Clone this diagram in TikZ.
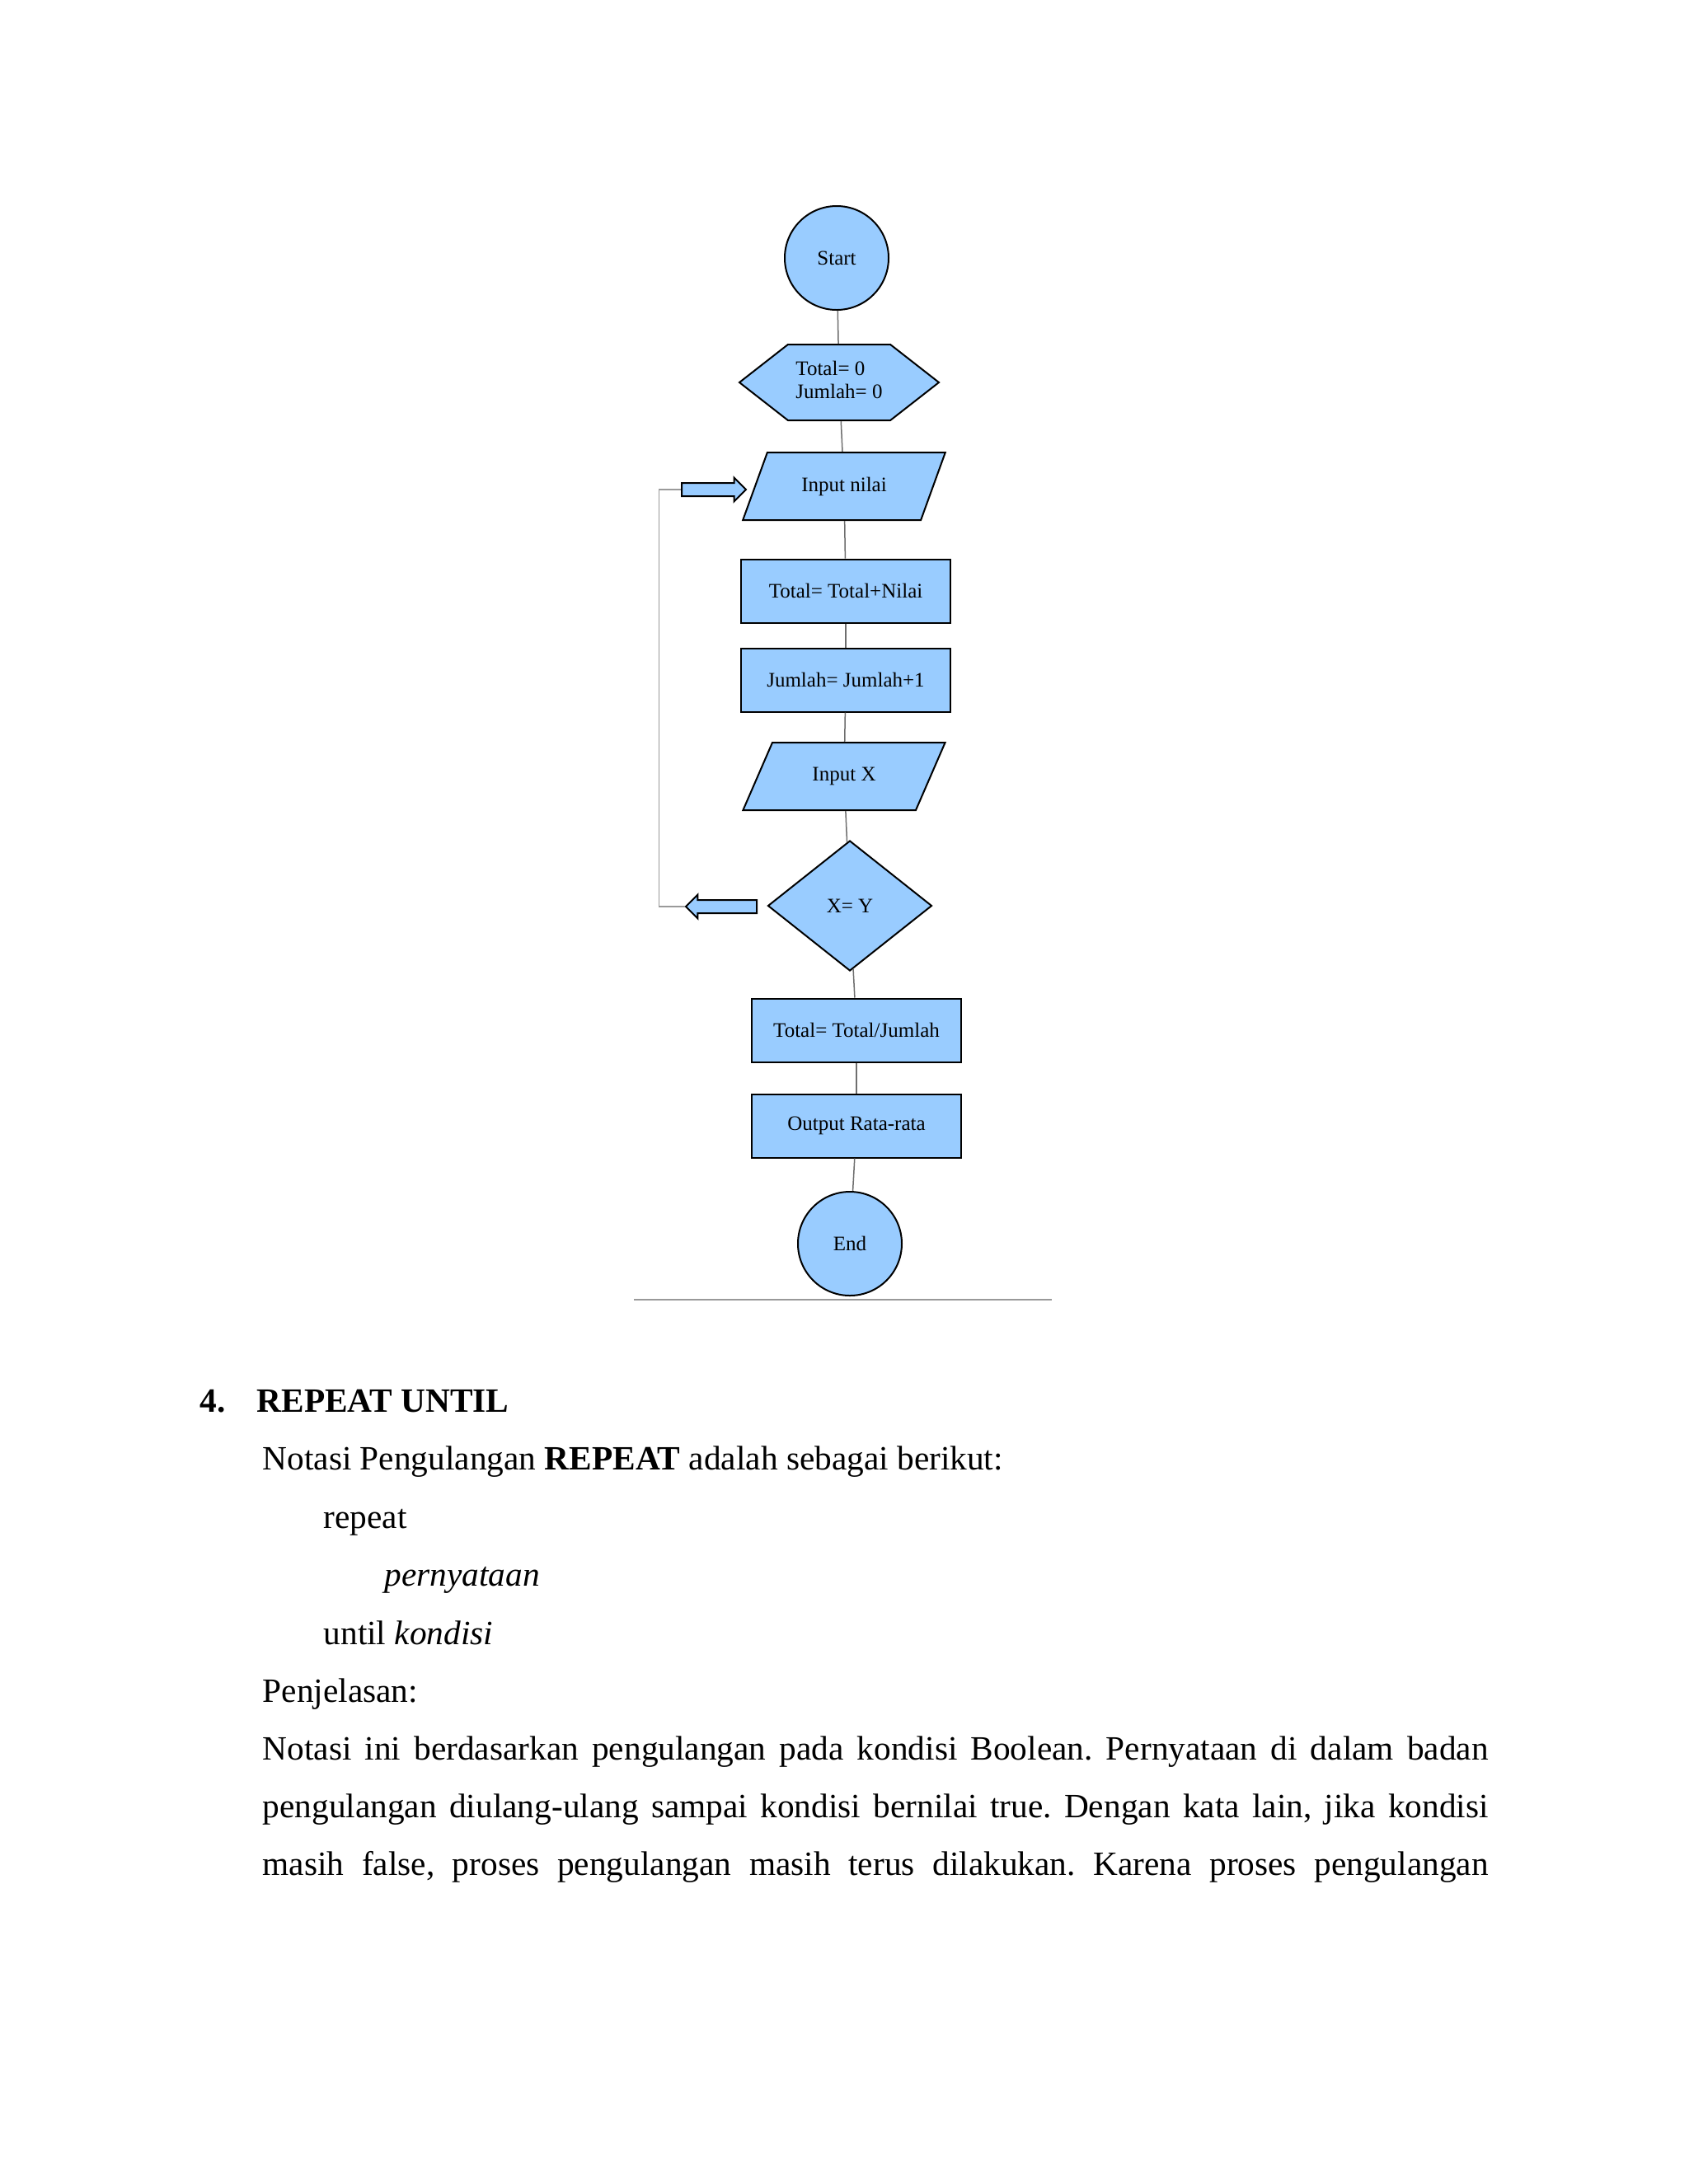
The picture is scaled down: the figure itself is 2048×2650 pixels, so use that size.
\documentclass[tikz,border=0pt]{standalone}
\usepackage{fontspec}
\setmainfont{Liberation Serif}
\usetikzlibrary{shapes.geometric,shapes.symbols,shapes.arrows}
\definecolor{boxblue}{HTML}{99CCFF}
\definecolor{linegray}{HTML}{6E6E6E}
\definecolor{loopgray}{HTML}{9A9A9A}
\definecolor{rulegray}{HTML}{999999}
\newcommand{\pxl}{0.29883bp}

\begin{document}
\begin{tikzpicture}[x=\pxl, y=-\pxl,
	flow/.style={draw=black, line width=0.6pt, fill=boxblue, inner sep=0pt, font=\fontsize{7.5}{8.4}\selectfont},
	term/.style={flow, circle, minimum size=126*\pxl},
	prep/.style={flow, signal, signal to=west and east, signal pointer angle=76, minimum width=242*\pxl, minimum height=92*\pxl, align=left},
	io/.style={flow, trapezium, trapezium left angle=54, trapezium right angle=126, trapezium stretches=true, minimum width=246*\pxl, minimum height=82*\pxl},
	proc/.style={flow, rectangle, minimum width=254*\pxl, minimum height=77*\pxl},
	decision/.style={flow, diamond, minimum width=199*\pxl, minimum height=158*\pxl},
	blockarrow/.style={flow, single arrow, inner xsep=0pt, inner ysep=2.09bp, single arrow head extend=1.94bp, single arrow head indent=0pt},
	conn/.style={draw=linegray, line width=0.45pt},
	body/.style={anchor=base west, inner sep=0pt, font=\fontsize{12.4}{21.1}\selectfont}]
	\useasboundingbox[fill=white] (0, 0) rectangle (2048, 2650);

	% flowchart
	\node[term] at (1015, 313) (start) {Start};
	\node[prep] at (1018, 464) (init) {\raisebox{1.5bp}{\begin{tabular}{@{}l@{}}Total= 0\\Jumlah= 0\end{tabular}}};
	\node[io] at (1024, 590) (innilai) {Input nilai};
	\node[proc] at (1026, 717) (addtotal) {Total= Total+Nilai};
	\node[proc] at (1026, 825) (addjumlah) {Jumlah= Jumlah+1};
	\node[io] at (1024, 942) (inx) {Input X};
	\node[decision] at (1031, 1099) (cek) {X= Y};
	\node[proc] at (1039, 1250) (avg) {Total= Total/Jumlah};
	\node[proc] at (1039, 1366) (outavg) {Output Rata-rata};
	\node[term] at (1031, 1509) (stop) {End};

	\node[blockarrow, minimum height=78*\pxl] at (862, 594) (inarrow) {};
	\node[blockarrow, minimum height=86*\pxl, shape border rotate=180] at (879, 1100) (backarrow) {};

	\path
	(start) edge[conn] (init)
	(init) edge[conn] (innilai)
	(innilai) edge[conn] (addtotal)
	(addtotal) edge[conn] (addjumlah)
	(addjumlah) edge[conn] (inx)
	(inx) edge[conn] (cek)
	(cek) edge[conn] (avg)
	(avg) edge[conn] (outavg)
	(outavg) edge[conn] (stop);
	\draw[conn, draw=loopgray] (backarrow.tip) -- ++(-31, 0) |- (inarrow.tail);

	\draw[draw=rulegray, line width=0.6pt] (769, 1577) -- (1276, 1577);

	% text below
	\node[body, font=\fontsize{12.4}{21.1}\selectfont\bfseries] at (242, 1713) (num) {4.};
	\node[body] at (311, 1713) (judul) {\textbf{REPEAT UNTIL}};
	\node[body] at (318, 1783) (notasi) {Notasi Pengulangan \textbf{REPEAT} adalah sebagai berikut:};
	\node[body] at (392, 1854) (kwrepeat) {repeat};
	\node[body] at (466, 1924) (kwbody) {\textit{pernyataan}};
	\node[body] at (392, 1995) (kwuntil) {until \textit{kondisi}};
	\node[body] at (318, 2065) (jelas) {Penjelasan:};
	\node[body, text width=444.36bp, align=justify] at (318, 2135) (isi) {\frenchspacing\parfillskip=0pt Notasi ini berdasarkan pengulangan pada kondisi Boolean. Pernyataan di dalam badan\linebreak pengulangan diulang-ulang sampai kondisi bernilai true. Dengan kata lain, jika kondisi\linebreak masih false, proses pengulangan masih terus dilakukan. Karena proses pengulangan\par};
\end{tikzpicture}
\end{document}
